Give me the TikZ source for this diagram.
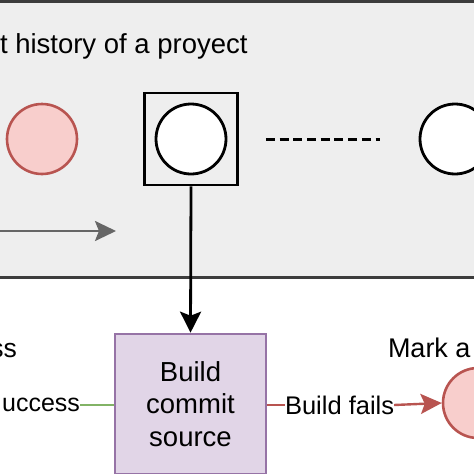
\documentclass[tikz,border=0pt]{standalone}
\usepackage{fontspec}
\setmainfont{Liberation Sans}
\usetikzlibrary{arrows.meta}
\definecolor{panelfill}{HTML}{EEEEEE}
\definecolor{paneldraw}{HTML}{3C3C3C}
\definecolor{redfill}{HTML}{F8CECC}
\definecolor{reddraw}{HTML}{B85450}
\definecolor{purplefill}{HTML}{E1D5E7}
\definecolor{purpledraw}{HTML}{9673A6}
\definecolor{greendraw}{HTML}{82B366}
\definecolor{graydraw}{HTML}{666666}
\tikzset{
  txt/.style={font=\fontsize{26.5}{32}\selectfont, inner sep=0pt, outer sep=0pt},
  redcirc/.style={circle, minimum size=70pt, inner sep=0pt, fill=redfill, draw=reddraw, line width=2.6pt},
  whitecirc/.style={circle, minimum size=70pt, inner sep=0pt, fill=white, draw=black, line width=2.8pt},
  selbox/.style={rectangle, minimum width=93pt, minimum height=92pt, inner sep=0pt, draw=black, line width=2.8pt},
  buildbox/.style={rectangle, minimum width=151pt, minimum height=140pt, inner sep=0pt, fill=purplefill, draw=purpledraw, line width=2.6pt, align=center, font=\fontsize{27.5}{32.5}\selectfont},
  bigtip/.style={-{Stealth[length=21pt,width=21pt,inset=4pt]}},
}
\begin{document}
\begin{tikzpicture}[x=1pt,y=-1pt]
\useasboundingbox (0,0) rectangle (474,474);
% panel
\path[fill=panelfill, draw=paneldraw, line width=3pt] (-20,1.5) rectangle (500,277.5);
\node[txt, font=\fontsize{27.5}{33}\selectfont, anchor=base west] (title) at (0,53) {t history of a proyect};
% commits
\node[redcirc] (c1) at (42,139) {};
\node[selbox] (sq) at (191,139) {};
\node[whitecirc] (c2) at (191,139) {};
\node[whitecirc] (c3) at (455,139) {};
\draw[line width=3pt, dash pattern=on 9pt off 4.7pt, shorten <=27pt, shorten >=39pt] (sq.east) -- (c3.west);
% time arrow
\coordinate (ga0) at (-5,231);
\coordinate (ga1) at (116,231);
\draw[graydraw, line width=2.4pt, -{Stealth[length=21pt,width=20pt,inset=4pt]}] (ga0) -- (ga1);
% build box
\node[buildbox] (box) at (190.5,404) {Build\\commit\\source};
\draw[line width=2.8pt, bigtip] (sq.south) -- (box.north);
% left: success
\node[txt, anchor=base east] (ss) at (17,357) {ss};
\node[txt, font=\fontsize{25}{30}\selectfont, anchor=east] (succ) at (80,405) {uccess};
\draw[greendraw, line width=2.4pt] (succ.east) -- (box.west |- succ.east);
% right: fails
\node[txt, font=\fontsize{25.5}{31}\selectfont, anchor=west] (fails) at (285,405) {Build fails};
\node[redcirc] (c4) at (478,403) {};
\draw[reddraw, line width=2.4pt] (box.east |- fails.west) -- (fails.west);
\draw[reddraw, line width=2.4pt, -{Stealth[length=21pt,width=20pt,inset=4pt]}] (fails.east) -- (c4.west);
\node[txt, font=\fontsize{27}{32}\selectfont, anchor=base west] (mark) at (388,357) {Mark a};
\end{tikzpicture}
\end{document}
